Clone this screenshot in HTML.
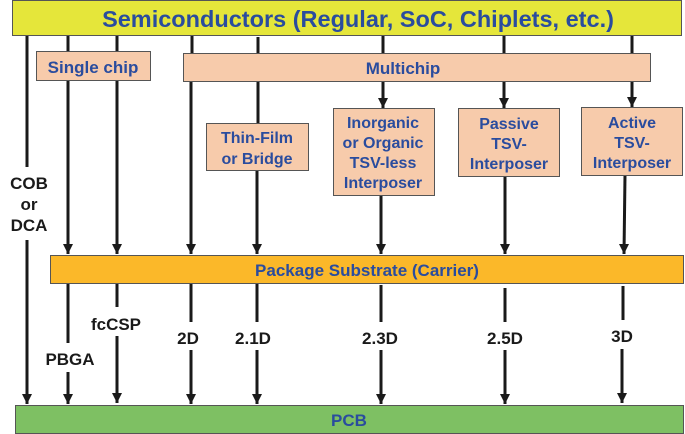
<!DOCTYPE html>
<html><head><meta charset="utf-8"><style>
body{margin:0;background:#fff}
svg{display:block}
text{font-family:"Liberation Sans",Arial,sans-serif;font-weight:bold}
.b{fill:#2a4c9e}
.k{fill:#1a1a1a}
</style></head><body>
<svg width="685" height="434" viewBox="0 0 685 434" xmlns="http://www.w3.org/2000/svg">
<defs>
<marker id="a" markerWidth="10" markerHeight="12" refX="5" refY="10" orient="0" markerUnits="userSpaceOnUse" viewBox="0 0 10 12">
<path d="M0,0 L10,0 L5,10 Z" fill="#1a1a1a"/></marker>
</defs>
<g stroke="#1a1a1a" stroke-width="3" fill="none">
<line x1="27" y1="35" x2="27" y2="167"/>
<line x1="27" y1="240" x2="27" y2="404" marker-end="url(#a)"/>
<line x1="68" y1="35" x2="68" y2="51"/>
<line x1="68" y1="80" x2="68" y2="254" marker-end="url(#a)"/>
<line x1="68" y1="284" x2="68" y2="343"/>
<line x1="68" y1="372" x2="68" y2="404" marker-end="url(#a)"/>
<line x1="117" y1="35" x2="117" y2="51"/>
<line x1="117" y1="80" x2="117" y2="254" marker-end="url(#a)"/>
<line x1="117" y1="284" x2="117" y2="307"/>
<line x1="117" y1="336" x2="117" y2="403" marker-end="url(#a)"/>
<line x1="192" y1="35" x2="192" y2="53"/>
<line x1="191" y1="82" x2="191" y2="254" marker-end="url(#a)"/>
<line x1="191" y1="284" x2="191" y2="322"/>
<line x1="191" y1="350" x2="191" y2="404" marker-end="url(#a)"/>
<line x1="258" y1="37" x2="258" y2="53"/>
<line x1="258" y1="81" x2="258" y2="123"/>
<line x1="257" y1="170" x2="257" y2="254" marker-end="url(#a)"/>
<line x1="257" y1="284" x2="257" y2="322"/>
<line x1="257" y1="350" x2="257" y2="404" marker-end="url(#a)"/>
<line x1="383" y1="35" x2="383" y2="53"/>
<line x1="383" y1="81" x2="383" y2="108" marker-end="url(#a)"/>
<line x1="381" y1="195" x2="381" y2="254" marker-end="url(#a)"/>
<line x1="381" y1="285" x2="381" y2="322"/>
<line x1="381" y1="350" x2="381" y2="404" marker-end="url(#a)"/>
<line x1="504" y1="35" x2="504" y2="53"/>
<line x1="504" y1="81" x2="504" y2="108" marker-end="url(#a)"/>
<line x1="505" y1="176" x2="505" y2="254" marker-end="url(#a)"/>
<line x1="505" y1="288" x2="505" y2="322"/>
<line x1="505" y1="350" x2="505" y2="404" marker-end="url(#a)"/>
<line x1="632" y1="35" x2="632" y2="53"/>
<line x1="632" y1="81" x2="632" y2="107" marker-end="url(#a)"/>
<line x1="625" y1="175" x2="624" y2="254" marker-end="url(#a)"/>
<line x1="623" y1="286" x2="623" y2="320"/>
<line x1="622" y1="349" x2="622" y2="403" marker-end="url(#a)"/>
</g>
<g stroke="#555" stroke-width="1">
<rect x="12.5" y="0.5" width="669" height="35" fill="#e5e63a"/>
<rect x="36.5" y="51.5" width="114" height="29" fill="#f7cbab"/>
<rect x="183.5" y="53.5" width="467" height="28" fill="#f7cbab"/>
<rect x="206.5" y="123.5" width="102" height="47" fill="#f7cbab"/>
<rect x="333.5" y="108.5" width="101" height="87" fill="#f7cbab"/>
<rect x="458.5" y="108.5" width="101" height="68" fill="#f7cbab"/>
<rect x="581.5" y="107.5" width="101" height="68" fill="#f7cbab"/>
<rect x="50.5" y="255.5" width="633" height="28" fill="#fbb829"/>
<rect x="15.5" y="405.5" width="668" height="28" fill="#7ec063"/>
</g>
<g text-anchor="middle" class="b">
<text x="358" y="27" font-size="23.5">Semiconductors (Regular, SoC, Chiplets, etc.)</text>
<text x="93" y="73" font-size="17">Single chip</text>
<text x="403" y="74" font-size="17">Multichip</text>
<text x="257" y="143" font-size="16">Thin-Film</text>
<text x="257" y="164" font-size="16">or Bridge</text>
<text x="383" y="128" font-size="16">Inorganic</text>
<text x="383" y="148" font-size="16">or Organic</text>
<text x="383" y="168" font-size="16">TSV-less</text>
<text x="383" y="188" font-size="16">Interposer</text>
<text x="509" y="129" font-size="16">Passive</text>
<text x="509" y="149" font-size="16">TSV-</text>
<text x="509" y="169" font-size="16">Interposer</text>
<text x="632" y="128" font-size="16">Active</text>
<text x="632" y="148" font-size="16">TSV-</text>
<text x="632" y="168" font-size="16">Interposer</text>
<text x="367" y="276" font-size="17">Package Substrate (Carrier)</text>
<text x="349" y="426" font-size="17">PCB</text>
</g>
<g text-anchor="middle" class="k" font-size="17">
<text x="29" y="189">COB</text>
<text x="29" y="210">or</text>
<text x="29" y="231">DCA</text>
<text x="70" y="365">PBGA</text>
<text x="116" y="330">fcCSP</text>
<text x="188" y="344">2D</text>
<text x="253" y="344">2.1D</text>
<text x="380" y="344">2.3D</text>
<text x="505" y="344">2.5D</text>
<text x="622" y="342">3D</text>
</g>
</svg>
</body></html>
